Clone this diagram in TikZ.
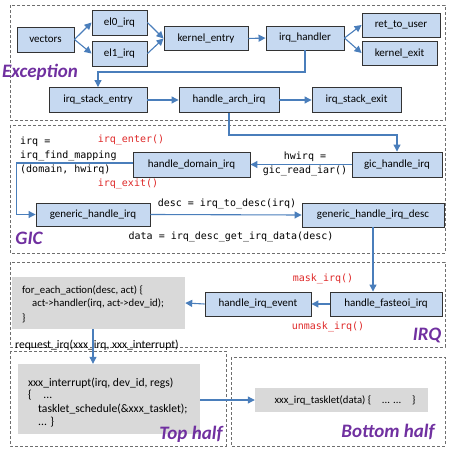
\documentclass[tikz,border=0pt]{standalone}
\usepackage{fontspec}
\setmainfont{Carlito}
\newfontfamily\codefont{DejaVu Sans Mono}
\usetikzlibrary{arrows.meta}
\definecolor{boxblue}{RGB}{198,217,241}
\definecolor{arrowblue}{RGB}{74,126,187}
\definecolor{labpurple}{RGB}{112,48,160}
\definecolor{codered}{RGB}{222,40,40}
\definecolor{graybox}{RGB}{217,217,217}
\definecolor{dashgray}{RGB}{110,110,110}
\tikzset{
  box/.style={draw=black!80, fill=boxblue, line width=0.9pt, inner sep=0pt, font=\fontsize{11}{13}\selectfont},
  gbox/.style={fill=graybox, inner sep=0pt},
  arr/.style={draw=arrowblue, line width=1.1pt, -{Triangle[length=7pt,width=7pt]}},
  sect/.style={draw=dashgray, line width=0.6pt, dash pattern=on 3pt off 2pt},
  lab/.style={text=labpurple, font=\fontsize{19}{21}\selectfont\bfseries\itshape, inner sep=0pt},
  code/.style={font=\codefont\fontsize{10}{14}\selectfont, inner sep=0pt},
  rcode/.style={code, text=codered},
  gtext/.style={font=\fontsize{10.7}{13}\selectfont, inner sep=0pt},
  ttext/.style={font=\fontsize{11.6}{13}\selectfont, inner sep=0pt},
}
\begin{document}
\begin{tikzpicture}[x=1pt,y=-1pt]
\useasboundingbox (0,0) rectangle (448,449);
% sections
\draw[sect] (10,5) rectangle (445,120);
\draw[sect] (10,125) rectangle (445,253);
\draw[sect] (10,262) rectangle (445,347);
\draw[sect] (10,351) rectangle (226,446);
\draw[sect] (231,357) rectangle (445,446);
% Exception
\node[box, minimum width=57pt, minimum height=25pt] (vec) at (45.5,39.5) {vectors};
\node[box, minimum width=55pt, minimum height=25pt] (el0) at (119.5,22.5) {el0\_irq};
\node[box, minimum width=55pt, minimum height=25pt] (el1) at (119.5,53.5) {el1\_irq};
\node[box, minimum width=84pt, minimum height=24pt] (ke) at (206,38.5) {kernel\_entry};
\node[box, minimum width=78pt, minimum height=24pt] (ih) at (305,38) {irq\_handler};
\node[box, minimum width=78pt, minimum height=24pt] (rtu) at (401,25) {ret\_to\_user};
\node[box, minimum width=75pt, minimum height=24pt] (kx) at (399.5,53) {kernel\_exit};
\node[box, minimum width=98pt, minimum height=25pt] (ise) at (98,100) {irq\_stack\_entry};
\node[box, minimum width=100pt, minimum height=25pt] (hai) at (229,100) {handle\_arch\_irq};
\node[box, minimum width=89pt, minimum height=25pt] (isx) at (356.5,100) {irq\_stack\_exit};
\node[lab] (lexc) at (40,72) {Exception};
\draw[arr] (vec.east) -- (el0.west);
\draw[arr] (vec.east) -- (el1.west);
\draw[arr] (el0.east) -- (ke.west);
\draw[arr] (el1.east) -- (ke.west);
\draw[arr] (ke.east) -- (ih.west);
\draw[arr] (ih.east) -- (rtu.west);
\draw[arr] (ih.east) -- (kx.west);
\draw[arr] (ih.south) -- (ih.south |- 0,72) -| (ise.north);
\draw[arr] (ise.east) -- (hai.west);
\draw[arr] (hai.east) -- (isx.west);
% GIC
\node[box, minimum width=90pt, minimum height=25pt] (gic) at (397,164.5) {gic\_handle\_irq};
\node[box, minimum width=117pt, minimum height=25pt] (hdi) at (191.5,164.5) {handle\_domain\_irq};
\node[box, minimum width=114pt, minimum height=23pt] (ghi) at (93,214.5) {generic\_handle\_irq};
\node[box, minimum width=142pt, minimum height=24pt] (ghid) at (373,215) {generic\_handle\_irq\_desc};
\draw[arr] (hai.south) -- (hai.south |- 0,135) -| (gic.north);
\draw[arr] (gic.west) -- (hdi.west -| hdi.east);
\draw[arr] ([yshift=1.5pt]hdi.west) -| ([xshift=-19pt]ghi.west) -- (ghi.west);
\draw[arr] (ghi.east) -- (ghid.west);
\node[code, anchor=north west, align=left] (ifm) at (20,137) {irq =\\irq\_find\_mapping\\(domain, hwirq)};
\node[rcode] (ienter) at (131,140) {irq\_enter()};
\node[rcode] (iexit) at (128,184) {irq\_exit()};
\node[code, align=center] (hw) at (305,164) {hwirq =\\gic\_read\_iar()};
\node[code] (dsc) at (227,204) {desc = irq\_to\_desc(irq)};
\node[code] (dat) at (231,237) {data = irq\_desc\_get\_irq\_data(desc)};
\node[lab] (lgic) at (29,238) {GIC};
% IRQ
\node[box, minimum width=112pt, minimum height=24pt] (hfe) at (386,304) {handle\_fasteoi\_irq};
\node[box, minimum width=106pt, minimum height=24pt] (hie) at (258,304) {handle\_irq\_event};
\node[gbox, minimum width=173pt, minimum height=52pt] (fea) at (98.5,303) {};
\node[gtext, anchor=west] (fea1) at (22,290) {for\_each\_action(desc, act) \{};
\node[gtext, anchor=west] (fea2) at (32,303.5) {act->handler(irq, act->dev\_id);};
\node[gtext, anchor=west] (fea3) at (22,318) {\}};
\node[rcode] (mask) at (323,279) {mask\_irq()};
\node[rcode] (umask) at (328,327) {unmask\_irq()};
\node[ttext, anchor=west] (req) at (15,345) {request\_irq(xxx\_irq, xxx\_interrupt)};
\node[lab] (lirq) at (427,335) {IRQ};
\draw[arr] (ghid.south) -- (ghid.south |- hfe.north);
\draw[arr] (hfe.west) -- (hie.east);
\draw[arr] (hie.west) -- (fea.east);
% Top / Bottom half
\node[gbox, minimum width=182pt, minimum height=70pt] (xint) at (109,399) {};
\node[ttext, anchor=west] (xi1) at (28,383) {xxx\_interrupt(irq, dev\_id, regs)};
\node[ttext, anchor=west] (xi2) at (28,395) {\{\quad ...};
\node[ttext, anchor=west] (xi3) at (38,409) {tasklet\_schedule(\&xxx\_tasklet);};
\node[ttext, anchor=west] (xi4) at (38,422) {... \}};
\node[gbox, minimum width=173pt, minimum height=24pt] (tsk) at (341.5,400) {};
\node[gtext] (tskt) at (345,400) {xxx\_irq\_tasklet(data) \{\quad ... ...\quad \}};
\draw[arr] ([xshift=-5.5pt]fea.south) -- ([xshift=-5.5pt]fea.south |- xint.north);
\draw[arr] (tsk.west -| xint.east) -- (tsk.west);
\node[lab] (ltop) at (191,434) {Top half};
\node[lab] (lbot) at (388,432) {Bottom half};
\end{tikzpicture}
\end{document}
